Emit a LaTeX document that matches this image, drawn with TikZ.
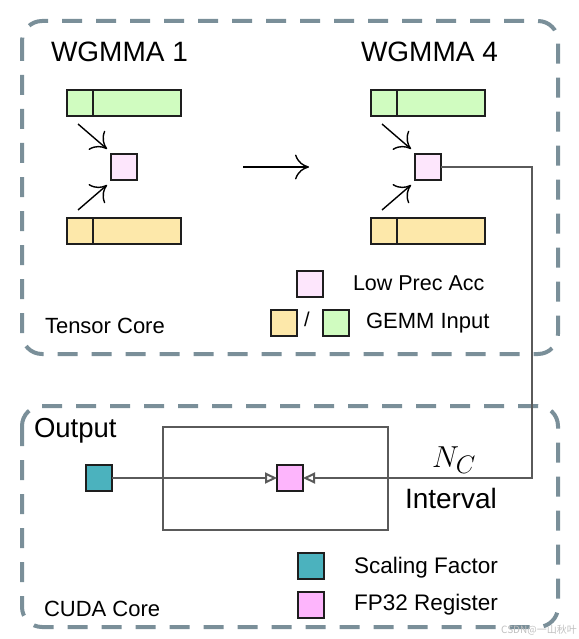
\documentclass[tikz,border=0pt]{standalone}
\usepackage{fontspec}
\usepackage{graphicx}
\setmainfont{Liberation Sans}
\newfontfamily\cjk{Noto Sans CJK SC}
\usetikzlibrary{arrows.meta,calc}
\definecolor{dashc}{HTML}{7A8F99}
\definecolor{edgec}{HTML}{1E1E1E}
\definecolor{connc}{HTML}{5A5A5A}
\definecolor{ingreen}{HTML}{D0FCC0}
\definecolor{inyellow}{HTML}{FDE8AA}
\definecolor{lowpink}{HTML}{FDE6FC}
\definecolor{fppink}{HTML}{FDB5FC}
\definecolor{teal}{HTML}{4BB2BE}
\tikzset{
  region/.style={draw=dashc, line width=4pt, dash pattern=on 20pt off 14pt, rounded corners=20pt},
  cell/.style={draw=edgec, line width=2pt, minimum width=26pt, minimum height=26pt, inner sep=0pt, outer sep=0pt},
  barpart/.style={draw=edgec, line width=2pt, minimum height=26pt, inner sep=0pt, outer sep=0pt},
  lbl/.style={anchor=base west, inner sep=0pt, outer sep=0pt},
  feed/.style={draw=black, line width=1.4pt, -{Computer Modern Rightarrow[length=14pt,width=25pt]}},
  conn/.style={draw=connc, line width=2pt},
  opentip/.style={-{Triangle[open,length=12pt,width=11pt]}},
  fnbig/.style={font=\fontsize{28}{32}\selectfont},
  fnmid/.style={font=\fontsize{22}{26}\selectfont},
}
\begin{document}
\begin{tikzpicture}[x=1pt,y=-1pt]
\useasboundingbox (0,0) rectangle (578,639);
% regions
\draw[region] (22,21) rectangle (558,354);
\draw[region] (22,406) rectangle (558,627);

% titles
\node[lbl, fnbig] (t1) at (51,62) {WGMMA 1};
\node[lbl, fnbig] (t4) at (361,62) {WGMMA 4};

% WGMMA 1 inputs
\node[barpart, fill=ingreen, minimum width=26pt] (g1a) at (80,103) {};
\node[barpart, fill=ingreen, minimum width=88pt] (g1b) at (137,103) {};
\node[barpart, fill=inyellow, minimum width=26pt] (y1a) at (80,231) {};
\node[barpart, fill=inyellow, minimum width=88pt] (y1b) at (137,231) {};
\node[cell, fill=lowpink] (p1) at (124,167) {};

% WGMMA 4 inputs
\node[barpart, fill=ingreen, minimum width=26pt] (g4a) at (384,103) {};
\node[barpart, fill=ingreen, minimum width=88pt] (g4b) at (441,103) {};
\node[barpart, fill=inyellow, minimum width=26pt] (y4a) at (384,231) {};
\node[barpart, fill=inyellow, minimum width=88pt] (y4b) at (441,231) {};
\node[cell, fill=lowpink] (p4) at (428,167) {};

% feed arrows
\draw[feed] ([shift={(-2,8)}]g1a.south) -- ([shift={(-4,-5)}]p1.north west);
\draw[feed] ([shift={(-2,-8)}]y1a.north) -- ([shift={(-4,5)}]p1.south west);
\draw[feed] ([shift={(-2,8)}]g4a.south) -- ([shift={(-4,-5)}]p4.north west);
\draw[feed] ([shift={(-2,-8)}]y4a.north) -- ([shift={(-4,5)}]p4.south west);
\draw[feed] ([xshift=106pt]p1.east) -- ([xshift=-106pt]p4.west);

% top legend
\node[cell, fill=lowpink] (lp) at (310,284) {};
\node[lbl, font=\fontsize{21.5}{25}\selectfont] (lpt) at (353,290) {Low Prec Acc};
\node[cell, fill=inyellow] (ly) at (284,323) {};
\node[lbl, font=\fontsize{20}{24}\selectfont] (slash) at (304,326) {/};
\node[cell, fill=ingreen] (lg) at (336,323) {};
\node[lbl, fnmid] (lgt) at (366,328) {GEMM Input};
\node[lbl, fnmid] (tc) at (45,333) {Tensor Core};

% CUDA core region
\node[lbl, font=\fontsize{27.5}{31}\selectfont] (out) at (34,437) {Output};
\node[draw=connc, line width=2pt, minimum width=225pt, minimum height=103pt, inner sep=0pt] (intv) at (275.5,478.5) {};
\node[cell, fill=teal] (sf) at (99,478) {};
\node[cell, fill=fppink] (fp) at (290,478) {};
\coordinate (turn) at (532,300);
\draw[conn, opentip] (sf.east) -- (fp.west);
\draw[conn, opentip] (p4.east) -| (turn) |- (fp.east);
\node[lbl, font=\fontsize{24.88}{28}\selectfont] (nc) at (432,467) {\scalebox{1.22}{$N_C$}};
\node[lbl, fnbig] (iv) at (405,508) {Interval};

% bottom legend
\node[cell, fill=teal] (ls) at (311,566) {};
\node[lbl, font=\fontsize{22.5}{26}\selectfont] (lst) at (354,573) {Scaling Factor};
\node[cell, fill=fppink] (lf) at (311,605) {};
\node[lbl, font=\fontsize{22.5}{26}\selectfont] (lft) at (354,610) {FP32 Register};
\node[lbl, fnmid] (cc) at (44,616) {CUDA Core};

% watermark
\node[anchor=base east, inner sep=0pt, text=black!25, font=\cjk\fontsize{10}{12}\selectfont] (wm) at (577,633) {CSDN@一山秋叶};
\end{tikzpicture}
\end{document}
